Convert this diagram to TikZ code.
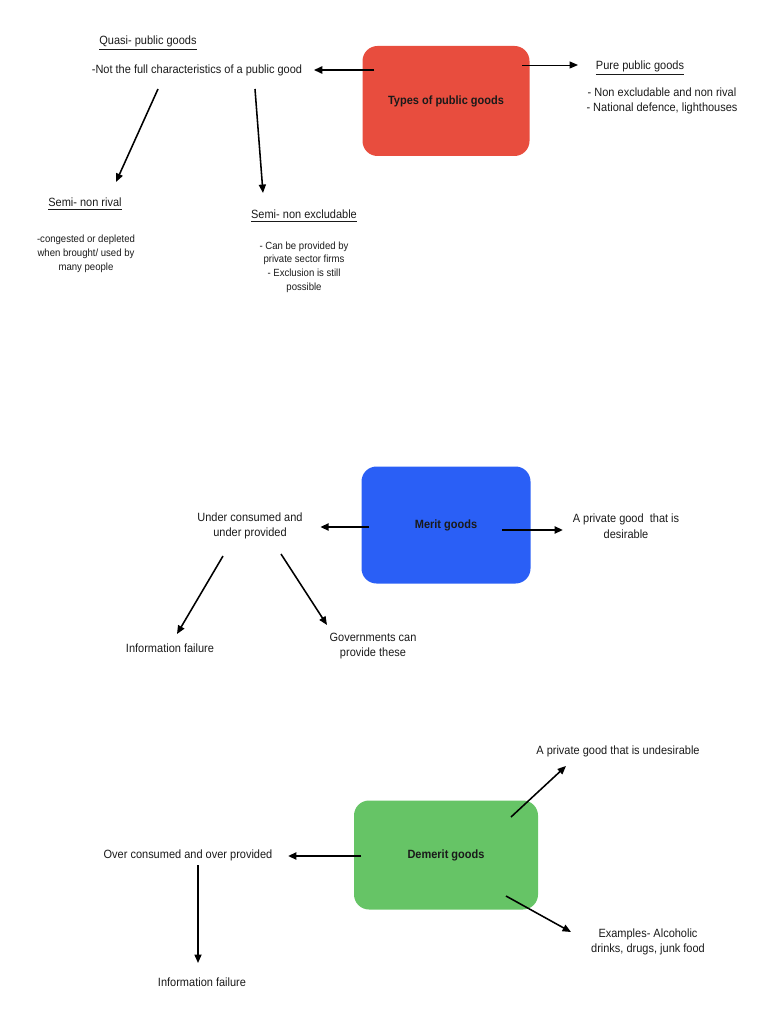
\documentclass[tikz,border=0pt]{standalone}
\usepackage{fontspec}
\setmainfont[FakeStretch=0.92]{Liberation Sans}
\usepackage{tikz}
\usetikzlibrary{arrows.meta,calc}
\definecolor{goods-red}{HTML}{E84D3E}
\definecolor{goods-blue}{HTML}{2A5FF6}
\definecolor{goods-green}{HTML}{66C466}
\definecolor{goods-text}{HTML}{1A1A1A}
\newcommand{\px}{0.025cm}

\begin{document}
\begin{tikzpicture}[x=0.025cm, y=-0.025cm,
    box/.style={rounded corners=15*\px, inner sep=0pt, font=\fontsize{8.5}{11}\selectfont\bfseries, text=goods-text},
    txt/.style={align=center, inner sep=1pt, font=\fontsize{8.5}{11}\selectfont, text=goods-text},
    small/.style={align=center, inner sep=1pt, font=\fontsize{7.4}{9.8}\selectfont, text=goods-text},
    arr/.style={-{Triangle[length=6pt,width=5pt]}, line width=1.5pt},
    midarr/.style={-{Triangle[length=6pt,width=5pt]}, line width=1.1pt},
    thinarr/.style={-{Triangle[length=6pt,width=5pt]}, line width=0.7pt}]
  \useasboundingbox (0,0) rectangle (768,1024);

  % public goods
  \node[box, fill=goods-red, minimum width=167*\px, minimum height=110*\px] (types) at (446,101) {Types of public goods};
  \node[txt] (quasiT) at (148,43) {\underline{Quasi- public goods}};
  \node[txt] (quasi) at (197,70) {-Not the full characteristics of a public good};
  \node[txt] (rivalT) at (85,204) {\underline{Semi- non rival}};
  \node[small] (rival) at (86,254) {-congested or depleted\\when brought/ used by\\many people};
  \node[txt] (exclT) at (304,216) {\underline{Semi- non excludable}};
  \node[small] (excl) at (304,267) {- Can be provided by\\private sector firms\\- Exclusion is still\\possible};
  \node[txt] (pureT) at (640,68) {\underline{Pure public goods}};
  \node[txt] (pure) at (662,101) {- Non excludable and non rival\\- National defence, lighthouses};

  \coordinate (t-left) at (374,70);
  \coordinate (t-right) at (522,65);
  \coordinate (q-a) at (158,89);
  \coordinate (q-b) at (255,89);
  \coordinate (r-end) at (116,182);
  \coordinate (e-end) at (263,193);
  \coordinate (p-end) at (578,65);

  \draw[arr, shorten >=10*\px] (t-left) -- (t-left -| quasi.east);
  \draw[midarr] (q-a) -- (r-end);
  \draw[midarr] (q-b) -- (e-end);
  \draw[thinarr] (t-right) -- (p-end);

  % merit goods
  \node[box, fill=goods-blue, minimum width=169*\px, minimum height=117*\px] (merit) at (446,525) {Merit goods};
  \node[txt] (under) at (250,526) {Under consumed and\\under provided};
  \node[txt] (desir) at (626,526) {A private good \ that is\\desirable};
  \node[txt] (info1) at (170,648) {Information failure};
  \node[txt] (govt) at (373,646) {Governments can\\provide these};

  \coordinate (m-left) at (369,527);
  \coordinate (m-right) at (502,530);
  \coordinate (m-rend) at (563,530);
  \coordinate (u-a) at (223,556);
  \coordinate (u-b) at (281,554);
  \coordinate (i1-end) at (177,634);
  \coordinate (g-end) at (327,625);

  \draw[arr, shorten >=16*\px] (m-left) -- (m-left -| under.east);
  \draw[arr] (m-right) -- (m-rend);
  \draw[midarr] (u-a) -- (i1-end);
  \draw[midarr] (u-b) -- (g-end);

  % demerit goods
  \node[box, fill=goods-green, minimum width=184*\px, minimum height=109*\px] (demerit) at (446,855) {Demerit goods};
  \node[txt] (over) at (188,855) {Over consumed and over provided};
  \node[txt] (info2) at (202,982) {Information failure};
  \node[txt] (undes) at (618,751) {A private good that is undesirable};
  \node[txt] (exam) at (648,942) {Examples- Alcoholic\\drinks, drugs, junk food};

  \coordinate (d-left) at (361,856);
  \coordinate (o-end) at (288,856);
  \coordinate (d-up) at (511,817);
  \coordinate (d-down) at (506,896);
  \coordinate (o-a) at (198,865);
  \coordinate (i2-end) at (198,963);
  \coordinate (u-end) at (566,766);
  \coordinate (x-end) at (571,932);

  \draw[arr] (d-left) -- (o-end);
  \draw[midarr] (o-a) -- (i2-end);
  \draw[midarr] (d-up) -- (u-end);
  \draw[midarr] (d-down) -- (x-end);
\end{tikzpicture}
\end{document}
